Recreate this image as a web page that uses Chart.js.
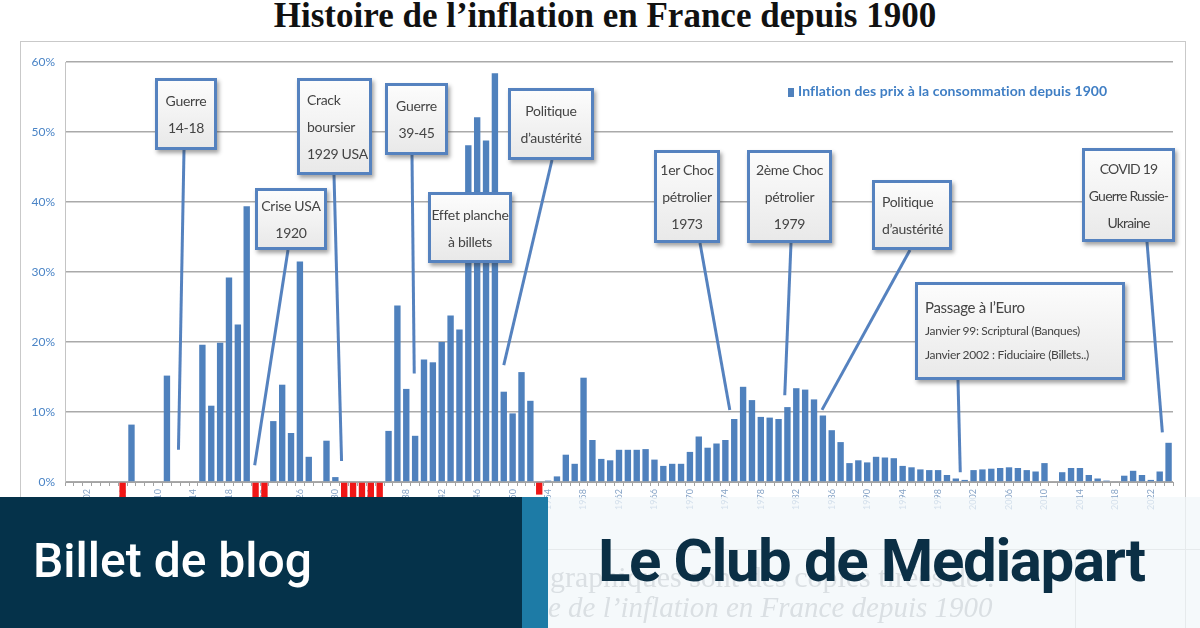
<!DOCTYPE html>
<html lang="fr">
<head>
<meta charset="UTF-8">
<title>Histoire de l'inflation en France depuis 1900</title>
<script src="https://cdn.jsdelivr.net/npm/chart.js@4.4.1/dist/chart.umd.min.js"></script>
<style>
  html, body { margin: 0; padding: 0; }
  body {
    width: 1200px; height: 628px; overflow: hidden;
    background: #fff; position: relative;
    font-family: Lato, 'Liberation Sans', sans-serif;
  }
  #title {
    position: absolute; left: 0; top: -4px; width: 1210px;
    text-align: center; color: #111; line-height: 1;
    font: bold 35px 'Liberation Serif', 'DejaVu Serif', serif;
  }
  #frame {
    position: absolute; left: 20px; top: 41px; width: 1164px; height: 640px;
    border: 1.5px solid #c9c9c9;
  }
  #chart { position: absolute; left: 0; top: 0; }
  #legend {
    position: absolute; left: 788px; top: 82px;
    color: #3f7ec4; font-size: 14px; font-weight: bold; white-space: nowrap;
    letter-spacing: 0.1px;
  }
  #legend span {
    display: inline-block; width: 6px; height: 9px; background: #4f81bd;
    margin-right: 4px; vertical-align: -1px;
  }
  .callout {
    position: absolute; box-sizing: border-box;
    border: 3px solid #5582bf;
    background: linear-gradient(#fcfcfc, #e9e9e9);
    box-shadow: 2px 3px 4px rgba(50, 50, 50, 0.45);
    color: #444; font-size: 14px; line-height: 27px;
    display: flex; flex-direction: column; justify-content: center;
    white-space: nowrap; letter-spacing: -0.3px;
  }
  .callout.small { line-height: 24px; font-size: 12px; }
  .callout.small div:first-child { font-size: 15px; }
  .under {
    position: absolute; white-space: nowrap; color: #9ea3a8;
    font-family: 'Liberation Serif', 'DejaVu Serif', serif;
  }
  #under1 { left: 550px; top: 560px; font-size: 30px; }
  #under2 { left: 548px; top: 591px; font-size: 29px; font-style: italic; }
  #ruleH { position: absolute; left: 548px; top: 549px; width: 652px; height: 1px; background: #c8c8c8; }
  #ruleV { position: absolute; left: 1075px; top: 549px; width: 1px; height: 80px; background: #c8c8c8; }
  #fog {
    position: absolute; left: 548px; top: 497px; right: 0; bottom: 0;
    background: rgba(241, 246, 250, 0.72);
  }
  #dark {
    position: absolute; left: 0; top: 497px; width: 522px; height: 131px;
    background: #05324a;
  }
  #teal {
    position: absolute; left: 522px; top: 497px; width: 26px; height: 131px;
    background: #1d7ba6;
  }
  #blog {
    position: absolute; left: 33px; top: 537px; color: #fff;
    font: 500 48px Roboto, 'Noto Sans', sans-serif; line-height: 1;
  }
  #club {
    position: absolute; left: 598px; top: 531px; color: #0b2f45;
    font: 700 60px Roboto, 'Noto Sans', sans-serif; line-height: 1;
    letter-spacing: -1.4px;
  }
</style>
</head>
<body>
  <div id="title">Histoire de l’inflation en France depuis 1900</div>
  <div id="frame"></div>
  <canvas id="chart" width="1200" height="628"></canvas>
  <div id="legend"><span></span>Inflation des prix à la consommation depuis 1900</div>

  <div id="ruleH"></div>
  <div id="ruleV"></div>
  <div id="under1" class="under">graphiques sont des copies tirées de :</div>
  <div id="under2" class="under">e de l’inflation en France depuis 1900</div>
  <div id="fog"></div>
  <div id="dark"></div>
  <div id="teal"></div>
  <div id="blog">Billet de blog</div>
  <div id="club">Le Club de Mediapart</div>

<script>
// yearly consumer price inflation, % (one bar per slot)
const inflation = [
  0, 0, 0, 0, 0, 0, -2.5, 8.2, 0, 0,
  0, 15.2, 0, 0, 0, 19.6, 10.9, 19.9, 29.2, 22.5,
  39.4, -2.5, -2.5, 8.7, 13.9, 7.0, 31.5, 3.6, 0, 5.9,
  0.7, -2.5, -2.5, -2.5, -2.5, -2.5, 7.3, 25.2, 13.3, 6.6,
  17.5, 17.1, 20.0, 23.8, 21.8, 48.1, 52.1, 48.8, 58.4, 12.9,
  9.8, 15.7, 11.6, -1.8, 0.2, 0.8, 3.9, 2.6, 14.9, 6.0,
  3.3, 3.1, 4.6, 4.6, 4.6, 4.7, 3.2, 2.3, 2.6, 2.6,
  4.3, 6.5, 4.9, 5.5, 6.0, 9.0, 13.6, 11.7, 9.3, 9.2,
  9.0, 10.7, 13.4, 13.2, 11.8, 9.5, 7.4, 5.7, 2.7, 3.1,
  2.8, 3.6, 3.5, 3.4, 2.3, 2.1, 1.8, 1.7, 1.7, 1.0,
  0.5, 0.3, 1.7, 1.8, 1.9, 2.0, 2.1, 2.0, 1.7, 1.5,
  2.7, 0, 1.4, 2.0, 2.0, 1.0, 0.5, 0.2, 0.1, 0.9,
  1.6, 1.0, 0.3, 1.5, 5.6
];
const firstYear = 1900;
const years = inflation.map((_, i) => String(firstYear + i));
const yTicks = [0, 10, 20, 30, 40, 50, 60];

// annotation boxes: text, box layout in px, leader start in px, leader target in data units [slot, %]
const callouts = [
  { lines: ['Guerre', '14-18'], box: [155, 78, 62, 72], from: [184, 150], target: [12.3, 4.6] },
  { lines: ['Crise USA', '1920'], box: [255, 188, 72, 62], from: [288, 250], target: [20.9, 2.4] },
  { lines: ['Crack', 'boursier', '1929 USA'], box: [297, 78, 75, 97], from: [334, 175], target: [30.7, 3.0], align: 'left' },
  { lines: ['Guerre', '39-45'], box: [385, 83, 63, 72], from: [412, 155], target: [38.9, 15.5] },
  { lines: ['Effet planche', 'à billets'], box: [428, 192, 84, 71] },
  { lines: ['Politique', 'd’austérité'], box: [508, 88, 86, 72], from: [552, 160], target: [49.0, 16.7] },
  { lines: ['1er Choc', 'pétrolier', '1973'], box: [654, 150, 66, 93], from: [700, 243], target: [74.5, 10.3] },
  { lines: ['2ème Choc', 'pétrolier', '1979'], box: [747, 150, 85, 93], from: [791, 243], target: [80.7, 12.4] },
  { lines: ['Politique', 'd’austérité'], box: [872, 180, 80, 70], from: [910, 250], target: [84.9, 10.3], align: 'left' },
  { lines: ['Passage à l’Euro', 'Janvier 99: Scriptural (Banques)', 'Janvier 2002 : Fiduciaire (Billets..)'],
    box: [915, 282, 210, 98], from: [958, 380], target: [100.5, 1.4], align: 'left', small: true },
  { lines: ['COVID 19', 'Guerre Russie-', 'Ukraine'], box: [1082, 148, 93, 94], from: [1147, 242], target: [123.3, 7.1], tight: true }
];

callouts.forEach(c => {
  const el = document.createElement('div');
  el.className = 'callout' + (c.small ? ' small' : '');
  el.style.left = c.box[0] + 'px';
  el.style.top = c.box[1] + 'px';
  el.style.width = c.box[2] + 'px';
  el.style.height = c.box[3] + 'px';
  el.style.textAlign = c.align || 'center';
  el.style.padding = c.align === 'left' ? '0 0 0 7px' : '0';
  if (c.tight) el.style.letterSpacing = '-0.8px';
  c.lines.forEach(t => {
    const d = document.createElement('div');
    d.textContent = t;
    el.appendChild(d);
  });
  document.body.insertBefore(el, document.getElementById('ruleH'));
});

const leaderPlugin = {
  id: 'leaders',
  afterDatasetsDraw(chart) {
    const { ctx, scales: { x, y } } = chart;
    ctx.save();
    ctx.strokeStyle = '#5582bf';
    ctx.lineWidth = 3;
    callouts.forEach(c => {
      if (!c.target) return;
      ctx.beginPath();
      ctx.moveTo(c.from[0], c.from[1]);
      ctx.lineTo(x.getPixelForValue(c.target[0]), y.getPixelForValue(c.target[1]));
      ctx.stroke();
    });
    ctx.restore();
  }
};

const ctx = document.getElementById('chart').getContext('2d');
new Chart(ctx, {
  type: 'bar',
  data: {
    labels: years,
    datasets: [{
      label: 'Inflation des prix à la consommation depuis 1900',
      data: inflation,
      backgroundColor: c => (c.raw < 0 ? '#f01616' : '#4f81bd'),
      barPercentage: 0.72,
      categoryPercentage: 1,
      clip: false
    }]
  },
  options: {
    responsive: false,
    animation: false,
    devicePixelRatio: 1,
    layout: { padding: { left: 0, top: 62, right: 27, bottom: 106 } },
    plugins: { legend: { display: false }, tooltip: { enabled: false } },
    scales: {
      x: {
        offset: true,
        grid: { offset: true, drawOnChartArea: false, tickLength: 4, color: '#a3a3a3' },
        border: { color: '#a3a3a3' },
        ticks: {
          autoSkip: false, minRotation: 90, maxRotation: 90, padding: 3,
          color: '#86a3c6', font: { family: 'Lato', size: 9 },
          callback: (v, i) => (i % 4 === 2 ? years[i] : '')
        },
        afterFit: s => { s.height = 40; }
      },
      y: {
        min: yTicks[0],
        max: yTicks[yTicks.length - 1],
        afterBuildTicks: s => { s.ticks = yTicks.map(v => ({ value: v })); },
        ticks: {
          callback: v => v + '%', color: '#4a84c6', padding: 10,
          font: { family: 'Lato', size: 12 }
        },
        grid: { color: '#aaaaaa', lineWidth: 1.5, drawTicks: false },
        border: { color: '#c4c4c4' },
        afterFit: s => { s.width = 65; }
      }
    }
  },
  plugins: [leaderPlugin]
});
</script>
</body>
</html>
